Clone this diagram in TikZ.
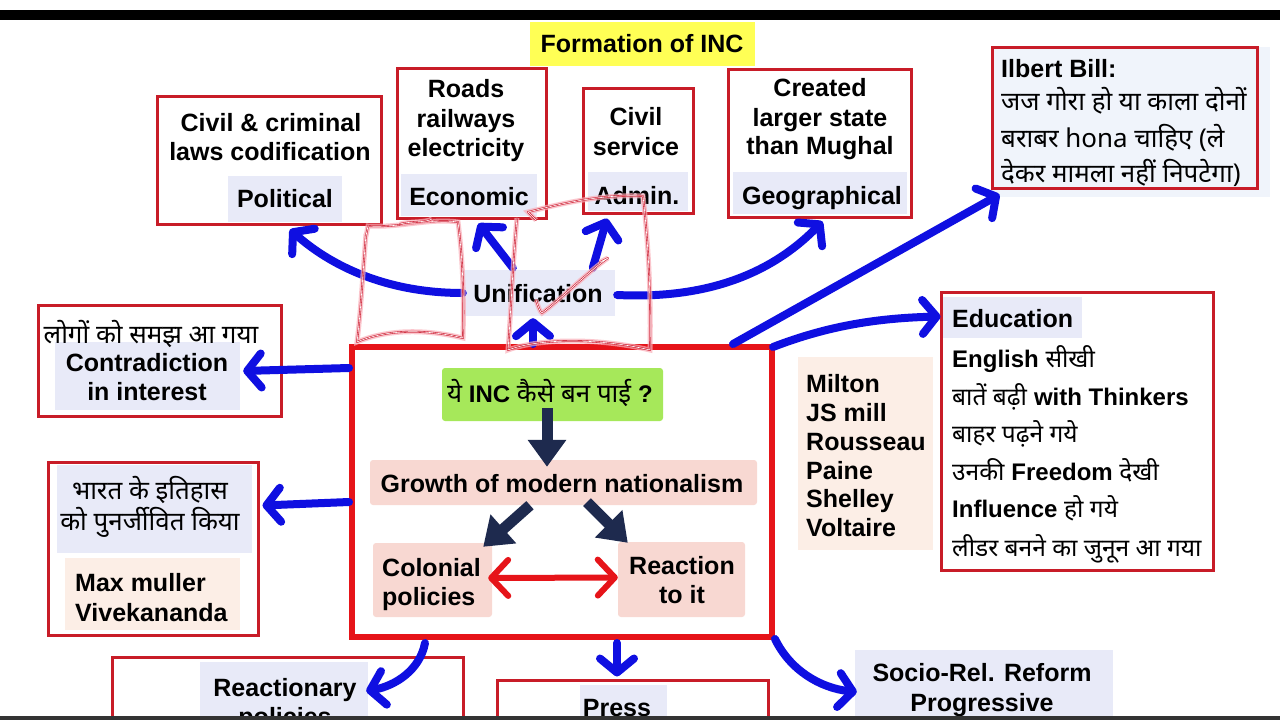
\documentclass[tikz,border=0pt]{standalone}
\usepackage{fontspec}
\setmainfont{Liberation Sans}
\newfontfamily\hi[Script=Devanagari,Scale=1.08]{Noto Sans}
\newcommand\hiS{\fontsize{22.7}{29}\selectfont\hi}
\usetikzlibrary{arrows.meta,fit,calc}
\definecolor{boxred}{RGB}{200,28,40}
\definecolor{mainred}{RGB}{230,20,25}
\definecolor{arrblue}{RGB}{15,15,225}
\definecolor{lav}{RGB}{232,234,248}
\definecolor{peach}{RGB}{252,238,230}
\definecolor{pinkf}{RGB}{248,216,210}
\definecolor{limeg}{RGB}{166,232,90}
\definecolor{ylw}{RGB}{255,255,85}
\definecolor{navy}{RGB}{30,42,78}
\definecolor{ilbf}{RGB}{240,244,251}
\definecolor{penred}{RGB}{205,30,50}
\definecolor{penglow}{RGB}{250,175,185}
\begin{document}
\begin{tikzpicture}[x=1pt,y=-1pt,
  rbox/.style={draw=boxred,line width=3pt,fill=white,inner sep=0pt},
  lavf/.style={fill=lav,inner sep=0pt},
  peachf/.style={fill=peach,inner sep=0pt},
  pinkbox/.style={fill=pinkf,rounded corners=3pt,inner sep=0pt},
  bt/.style={font=\fontsize{25}{29}\selectfont\bfseries,inner sep=0pt,anchor=base},
  btl/.style={bt,anchor=base west},
  rt/.style={font=\fontsize{24}{29}\selectfont,inner sep=0pt,anchor=base west},
  rtc/.style={rt,anchor=base},
  barrow/.style={draw=arrblue,line width=8pt,line cap=round,-{Straight Barb[length=14pt,width=34pt,round]}},
  narrow/.style={draw=navy,line width=11pt,-{Triangle[length=27pt,width=37pt]}},
  rarrow/.style={draw=mainred,line width=6pt,{Straight Barb[length=17pt,width=36pt,round]}-{Straight Barb[length=17pt,width=36pt,round]}},
  pen/.style={draw=penred,line width=1.8pt,line cap=round,line join=round,
     preaction={draw=penglow,line width=5pt,opacity=0.7},
     postaction={draw=white,line width=0.6pt}}
]
\clip (0,0) rectangle (1280,720);
\fill[white] (0,0) rectangle (1280,720);
\useasboundingbox (0,0) rectangle (1280,720);

% title
\node[fill=ylw,minimum width=225pt,minimum height=44pt,inner sep=0pt,
      font=\fontsize{25}{29}\selectfont\bfseries] (title) at (642,44) {Formation of INC};

% top boxes
\node[rbox,fit={(157,96)(381,224)}] (civ) {};
\node[lavf,fit={(228,176)(342,222)}] (pol) {};
\node[bt] (civa) at (271,131) {Civil \& criminal};
\node[bt] (civb) at (270,160) {laws codification};
\node[bt] (polt) at (285,207) {Political};

\node[rbox,fit={(397,68)(546,218)}] (road) {};
\node[lavf,fit={(401,174)(537,216)}] (eco) {};
\node[bt] (roada) at (466,97) {Roads};
\node[bt] (roadb) at (466,127) {railways};
\node[bt] (roadc) at (466,156) {electricity};
\node[bt] (ecot) at (469,205) {Economic};

\node[rbox,fit={(583,88)(693,213)}] (csv) {};
\node[lavf,fit={(588,172)(688,211)}] (adm) {};
\node[bt] (csva) at (636,125) {Civil};
\node[bt] (csvb) at (636,155) {service};
\node[bt] (admt) at (637,204) {Admin.};

\node[rbox,fit={(728,69)(911,217)}] (geo) {};
\node[lavf,fit={(733,172)(907,214)}] (geol) {};
\node[bt] (geoa) at (820,96) {Created};
\node[bt] (geob) at (820,126) {larger state};
\node[bt] (geoc) at (820,154) {than Mughal};
\node[bt] (geot) at (822,204) {Geographical};

% Ilbert bill
\node[fill=ilbf,inner sep=0pt,fit={(992,47)(1270,197)}] (ilbg) {};
\node[draw=boxred,line width=3pt,inner sep=0pt,fit={(992,47)(1257,188)}] (ilb) {};
\node[btl] (ila) at (1001,77) {Ilbert Bill:};
\node[rt] (ilbb) at (1001,110) {\hi जज गोरा हो या काला दोनों};
\node[rt] (ilc) at (1001,147) {\hi बराबर hona चाहिए (ले};
\node[rt] (ild) at (1001,182) {\hi देकर मामला नहीं निपटेगा)};

% unification
\node[lavf,fit={(463,270)(615,316)}] (uni) {};
\node[bt] (unit) at (538,302) {Unification};

% contradiction
\node[rbox,fit={(38,305)(281,416)}] (con) {};
\node[lavf,fit={(55,342)(240,410)}] (conl) {};
\node[rtc] (cona) at (151,343) {\hi लोगों को समझ आ गया};
\node[bt] (conb) at (147,371) {Contradiction};
\node[bt] (conc) at (147,400) {in interest};

% bharat
\node[rbox,fit={(48,462)(258,635)}] (bh) {};
\node[lavf,fit={(57,465)(252,553)}] (bhl) {};
\node[peachf,fit={(65,558)(240,630)}] (bhp) {};
\node[rtc] (bha) at (150,499) {\hi भारत के इतिहास};
\node[rtc] (bhb) at (150,530) {\hi को पुनर्जीवित किया};
\node[btl] (bhc) at (75,591) {Max muller};
\node[btl] (bhd) at (75,621) {Vivekananda};

% main box
\node[draw=mainred,line width=6pt,fill=white,inner sep=0pt,fit={(352,347)(772,637)}] (main) {};
\node[fill=limeg,rounded corners=3pt,inner sep=0pt,fit={(442,368)(663,421)}] (q) {};
\node[rtc] (qt) at (550,402) {{\hi ये} \textbf{INC} {\hi कैसे बन पाई} \textbf{?}};
\node[pinkbox,fit={(370,460)(757,505)}] (gr) {};
\node[bt] (grt) at (562,492) {Growth of modern nationalism};
\node[pinkbox,fit={(373,543)(492,617)}] (col) {};
\node[btl] (cola) at (382,576) {Colonial};
\node[btl] (colb) at (382,605) {policies};
\node[pinkbox,fit={(618,542)(745,617)}] (rea) {};
\node[bt] (reaa) at (682,574) {Reaction};
\node[bt] (reab) at (682,603) {to it};

% thinkers
\node[peachf,fit={(798,357)(933,550)}] (thk) {};
\node[btl] (th1) at (806,392) {Milton};
\node[btl] (th2) at (806,421) {JS mill};
\node[btl] (th3) at (806,450) {Rousseau};
\node[btl] (th4) at (806,479) {Paine};
\node[btl] (th5) at (806,507) {Shelley};
\node[btl] (th6) at (806,536) {Voltaire};

% education
\node[rbox,fit={(941,292)(1213,570)}] (edu) {};
\node[lavf,fit={(943,297)(1082,338)}] (edul) {};
\node[btl] (ed1) at (952,327) {Education};
\node[rt] (ed2) at (952,367) {\textbf{English} {\hiS सीखी}};
\node[rt] (ed3) at (952,405) {{\hiS बातें बढ़ी} \textbf{with Thinkers}};
\node[rt] (ed4) at (952,442) {\hiS बाहर पढ़ने गये};
\node[rt] (ed5) at (952,480) {{\hiS उनकी} \textbf{Freedom} {\hiS देखी}};
\node[rt] (ed6) at (952,517) {\textbf{Influence} {\hiS हो गये}};
\node[rt] (ed7) at (952,556) {\hiS लीडर बनने का जुनून आ गया};

% bottom
\node[rbox,fit={(112,657)(463,740)}] (rcb) {};
\node[lavf,fit={(200,662)(368,730)}] (rcl) {};
\node[bt] (rca) at (285,696) {Reactionary};
\node[bt] (rcb2) at (285,725) {policies};
\node[rbox,fit={(497,680)(768,740)}] (prb) {};
\node[lavf,fit={(580,685)(667,730)}] (prl) {};
\node[bt] (prt) at (617,716) {Press};
\node[lavf,fit={(855,650)(1113,730)}] (soc) {};
\node[bt] (soa) at (982,681) {Socio-Rel. Reform};
\node[bt] (sob) at (982,711) {Progressive};

% navy arrows inside main
\draw[narrow] ($(q.south)+(-5.5,-13)$) -- ($(gr.north)+(-16.5,7)$);
\draw[narrow] ($(gr.south)+(-33.5,0)$) -- ($(col.north east)+(-9,4)$);
\draw[narrow] ($(gr.south)+(23.5,-3)$) -- ($(rea.north west)+(10,1)$);
\draw[rarrow] ($(col.east)+(-4,-2)$) -- ($(rea.west)+(0,-2)$);

% blue arrows
\draw[barrow] (uni.west) .. controls (385,293) and (330,265) .. ($(civ.south)+(21,4)$);
\draw[barrow] ($(uni.north west)+(50,-2)$) -- ($(road.south)+(7,4)$);
\draw[barrow] ($(uni.north west)+(130,-2)$) -- ($(csv.south)+(-31,4)$);
\draw[barrow] ($(uni.east)+(2,2)$) .. controls (720,300) and (780,265) .. ($(geo.south)+(3,3)$);
\draw[barrow] ($(main.north)+(-29,0)$) -- ($(uni.south)+(-6,2)$);
\draw[barrow] ($(main.north west)+(0,24)$) -- ($(conl.east)+(3,-5)$);
\draw[barrow] ($(main.north west)+(0,158)$) -- ($(bh.east)+(3,-43)$);
\draw[barrow] ($(main.north east)+(-42,0)$) -- ($(ilb.south west)+(9,5)$);
\draw[barrow] ($(main.north east)+(-2,3)$) .. controls (830,325) and (880,318) .. ($(edu.north west)+(1,26)$);
\draw[barrow] ($(main.south west)+(76,3)$) .. controls (420,670) and (395,686) .. ($(rcl.east)+(-2,-5)$);
\draw[barrow] ($(main.south)+(55,3)$) -- ($(prb.north)+(-15.5,-2)$);
\draw[barrow] ($(main.south east)+(0,-1)$) .. controls (790,670) and (820,688) .. ($(soc.west)+(2,2)$);

% hand-drawn pen marks
\draw[pen] (366,234) .. controls (363,270) and (361,310) .. (357,342)
  .. controls (390,328) and (430,330) .. (463,338)
  .. controls (464,300) and (463,260) .. (458,222)
  .. controls (430,218) and (400,228) .. (368,226) -- (366,236);
\draw[pen] (400,224) .. controls (410,221) and (425,223) .. (432,219);
\draw[pen] (517,218) .. controls (513,260) and (511,310) .. (508,350)
  .. controls (540,338) and (600,338) .. (650,350)
  .. controls (651,300) and (649,250) .. (643,196)
  .. controls (600,194) and (560,204) .. (528,212) -- (536,220);
\draw[pen] (536,300) .. controls (538,306) and (540,312) .. (542,313)
  .. controls (560,300) and (590,270) .. (608,258) -- (600,262);

% bands
\fill[black] (0,10) rectangle (1280,20);
\fill[black!80] (0,716) rectangle (1280,720);
\end{tikzpicture}
\end{document}
